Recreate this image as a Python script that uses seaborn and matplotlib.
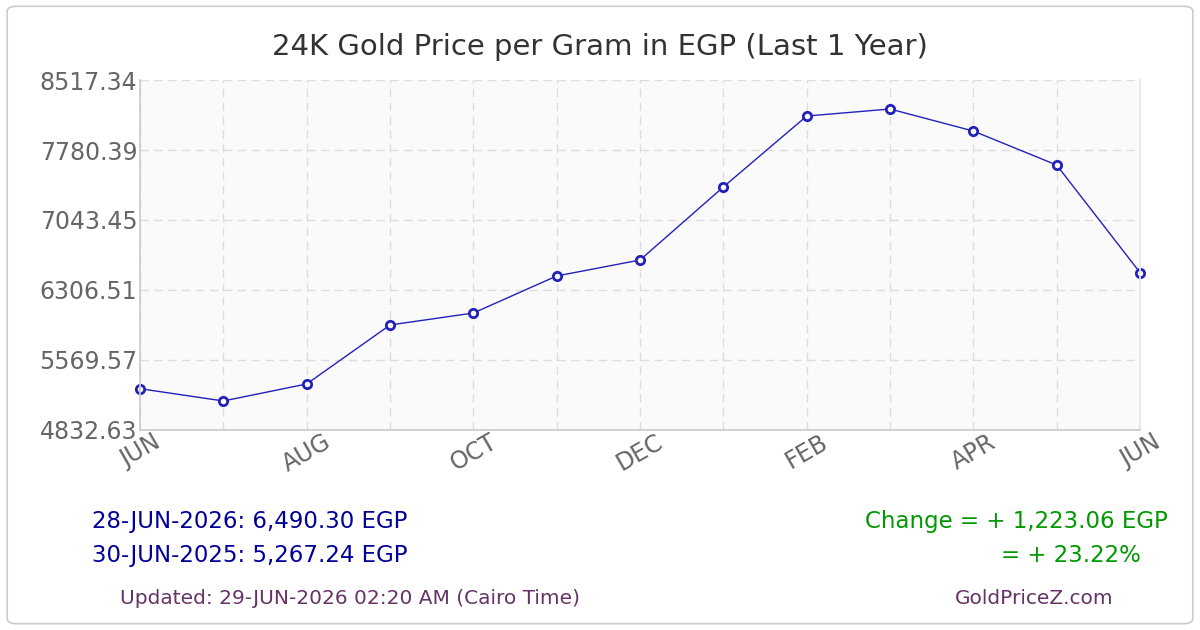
import matplotlib
matplotlib.use("Agg")
import matplotlib.pyplot as plt
import seaborn as sns
import pandas as pd
from matplotlib.patches import FancyBboxPatch

months = ["JUN","JUL","AUG","SEP","OCT","NOV","DEC","JAN","FEB","MAR","APR","MAY","JUN"]
prices = [5267.24,5138,5317,5938,6064,6454,6622,7391,8138,8212,7980,7622,6490.30]
yticks = [4832.63,5569.57,6306.51,7043.45,7780.39,8517.34]
xlabels = ["JUN","","AUG","","OCT","","DEC","","FEB","","APR","","JUN"]

sns.set_theme(style="white")
plt.rcParams['font.family'] = ['DejaVu Sans']
df = pd.DataFrame({"i": range(len(prices)), "price": prices})

fig = plt.figure(figsize=(12, 6.3), dpi=100)
fig.patches.append(FancyBboxPatch((0.006, 0.01), 0.988, 0.98, boxstyle="round,pad=0,rounding_size=0.008",
                                  transform=fig.transFigure, fc="white", ec="#cccccc", lw=1.2, zorder=-10))
ax = fig.add_axes([0.1167, 0.3175, 0.8333, 0.5555])
ax.set_zorder(5)
ax.set_facecolor("#fafafa")
sns.lineplot(data=df, x="i", y="price", ax=ax, color="#2222bb", lw=1, marker="o",
             markersize=6, markerfacecolor="white", markeredgecolor="#2222bb", markeredgewidth=2, clip_on=False)
ax.set_xlim(0, 12)
ax.set_ylim(yticks[0], yticks[-1])
ax.set_yticks(yticks)
ax.set_yticklabels([f"{v:.2f}" for v in yticks], fontsize=17, color="#666666")
ax.set_xticks(range(13))
ax.set_xticklabels(xlabels, rotation=30, fontsize=17, color="#666666", ha="center")
ax.tick_params(axis="x", pad=0, length=0)
ax.tick_params(axis="y", pad=2, length=0)
ax.grid(True, ls=(0, (6, 4)), color="#dddddd", lw=1)
ax.spines["top"].set_visible(False)
ax.spines["left"].set_color("#cccccc")
ax.spines["bottom"].set_color("#cccccc")
ax.spines["right"].set_color("#e6e6e6")
ax.set_xlabel(""); ax.set_ylabel("")

fig.text(0.5, 0.925, "24K Gold Price per Gram in EGP (Last 1 Year)", ha="center", va="center", fontsize=21, color="#333333")
fig.text(0.208, 0.173, "28-JUN-2026: 6,490.30 EGP", ha="center", va="center", fontsize=16.5, color="#000099")
fig.text(0.208, 0.118, "30-JUN-2025: 5,267.24 EGP", ha="center", va="center", fontsize=16.5, color="#000099")
fig.text(0.973, 0.173, "Change = + 1,223.06 EGP", ha="right", va="center", fontsize=16.5, color="#009900")
fig.text(0.951, 0.118, "= + 23.22%", ha="right", va="center", fontsize=16.5, color="#009900")
fig.text(0.292, 0.050, "Updated: 29-JUN-2026 02:20 AM (Cairo Time)", ha="center", va="center", fontsize=14.5, color="#663366")
fig.text(0.862, 0.050, "GoldPriceZ.com", ha="center", va="center", fontsize=14.5, color="#663366")
fig.savefig("out.png", dpi=100)
